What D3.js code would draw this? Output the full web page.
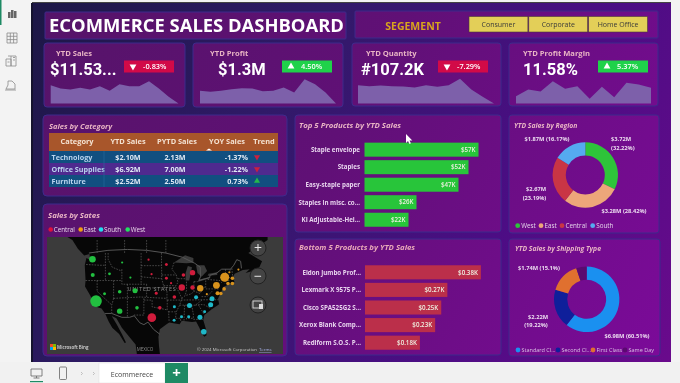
<!DOCTYPE html>
<html><head><meta charset="utf-8">
<script src="https://cdn.jsdelivr.net/npm/d3@7"></script>
<style>html,body{margin:0;padding:0;background:#f3f3f3;overflow:hidden}
svg{display:block;filter:blur(.5px)}text{font-family:"Open Sans","Noto Sans",sans-serif}</style></head>
<body><svg id="c" width="680" height="383"></svg>
<script>
// ---------- data ----------
const kpiNames = ["YTD Sales","YTD Profit","YTD Quantity","YTD Profit Margin"];
const kpiValues = ["$11.53...","$1.3M","#107.2K","11.58%"];
const kpiDeltas = [-0.83,4.50,-7.29,5.37];
const sparkSales = [55,45,42,47,42,52,38,58,52,52,67,45,20,0];
const sparkProfit = [38,35,38,43,46,45,37,38,48,33,73,58,33,0];
const sparkQuantity = [55,52,54,52,51,48,55,50,55,74,42,20,0];
const sparkMargin = [22,42,36,67,44,52,14,50,19,62,57,47];
const segments = ["Consumer","Corporate","Home Office"];
const tableHeaders = ["Category","YTD Sales","PYTD Sales","YOY Sales","Trend"];
const tableCategories = ["Technology","Office Supplies","Furniture"];
const tableYtd = ["$2.10M","$6.92M","$2.52M"];
const tablePytd = ["2.13M","7.00M","2.50M"];
const tableYoy = [-1.37,-1.22,0.73];
const topProducts = ["Staple envelope","Staples","Easy-staple paper","Staples in misc. co...","KI Adjustable-Hei..."];
const topValues = [57,52,47,26,22];
const bottomProducts = ["Eldon Jumbo Prof...","Lexmark X 9575 P...","Cisco SPA525G2 S...","Xerox Blank Comp...","Rediform S.O.S. P..."];
const bottomValues = [0.38,0.27,0.25,0.23,0.18];
const regionNames = ["West","East","Central","South"];
const regionShares = [32.22,28.42,23.19,16.17];
const shipNames = ["Standard Cl...","Second Cl...","First Class","Same Day"];
const shipShares = [60.51,19.22,15.10,5.17];
// map points: [lon, lat, sales $K]
const westPts = [[-121.7,47.5,146],[-121.6,43.5,54],[-115.5,43.8,26],[-110.9,46.7,16],[-107.9,42.8,16],[-120.4,36.2,450],[-117.3,38.3,30],[-111.8,38.9,43],[-106.2,39.2,84],[-111.8,33.2,98],[-105.5,34.2,43]];
const centralPts = [[-101.3,47.4,16],[-94.8,46.2,30],[-100.2,43.7,16],[-94.8,42.6,30],[-88.6,43.5,43],[-85.3,44.1,98],[-89.2,40.1,137],[-85.3,40.1,65],[-98.5,38.5,30],[-91.9,37.4,43],[-93.1,41.3,16],[-97.2,34.2,43],[-100.1,31.2,248]];
const eastPts = [[-73.6,42.9,271],[-76.6,40.7,155],[-82.5,39.9,137],[-70.8,42.6,43],[-72.4,41.2,43],[-70.8,41.2,43],[-73.8,39.7,43],[-68.6,44.9,16],[-71.9,44.2,16],[-76.2,38.5,54],[-75,38.4,43],[-80.1,38.2,16]];
const southPts = [[-84,37.3,54],[-78.2,36.9,84],[-78.7,35.1,84],[-86.4,34.9,84],[-91.9,34.5,30],[-80.9,33,30],[-82.6,31.3,84],[-86.7,31.5,30],[-89.3,31.5,30],[-92,30.4,30],[-81.2,26.7,105]];
const landOutline = [[-140,56],[-129,52],[-127,50],[-124.7,48.4],[-122.8,48.8],[-122.5,47.3],[-123.9,47.8],[-124.5,46],[-124.2,42],[-124.4,40.4],[-122.5,37.8],[-120.6,34.6],[-118.4,34],[-117.1,32.5],[-115.8,30],[-114.5,28],[-112,26],[-110,23],[-109.5,23.2],[-111,26],[-112.8,29],[-114.7,31.7],[-113,31],[-111,28],[-109,25.8],[-106,22.5],[-105.5,19],[-97,18],[-97.5,22],[-97.7,25],[-97.2,27.5],[-95,29],[-93.8,29.7],[-90,29.1],[-89.2,30.2],[-85.5,29.8],[-84,30],[-82.8,28],[-81.8,26],[-81,25.1],[-80.2,25.6],[-80.4,27.5],[-81.4,30.5],[-81,32],[-79,33.3],[-77.9,34],[-75.6,35.3],[-76,37],[-75.2,38.3],[-74,40.3],[-72,41],[-70,41.7],[-70.8,42.7],[-70,43.8],[-67,44.8],[-64.5,45],[-66,44],[-63.5,44.5],[-61,45.5],[-60,47],[-65,49],[-58,52],[-58,56]];
const lakes = [
 [[-92,46.7],[-88,48.5],[-85,47.8],[-85,46.6],[-87.5,46.5],[-90.5,46.6]],
 [[-87.8,42],[-86.5,42],[-85.5,45.5],[-87,45.8],[-87.8,44]],
 [[-84,46],[-81,46],[-80,44.5],[-82,43],[-83.5,44]],
 [[-83.4,41.6],[-79,42.6],[-79,43],[-83,42.2]],
 [[-79.8,43.3],[-76.3,43.5],[-76.3,44.2],[-79.5,43.8]]];
const countryBorders = [
 [[-123,49],[-95,49],[-89,48],[-84.5,46.5],[-82.5,45.5],[-82.4,43],[-83,42],[-79,42.8],[-79,43.4],[-76.5,44],[-74.7,45],[-71.5,45],[-70.3,46],[-69.2,47.4],[-67.8,47],[-67.5,45.2]],
 [[-117.1,32.5],[-114.7,32.5],[-111,31.3],[-108.2,31.3],[-106.5,31.8],[-104.5,29.6],[-103,29],[-101.5,29.8],[-99.5,27.5],[-97.2,25.9]]];
const stateLines = [
 [[-124,46.2],[-119,46],[-117,46]],[[-117,49],[-117,42]],[[-116,49],[-116,47.5],[-114.5,45.5],[-111,44.5]],
 [[-124.2,42],[-111,42]],[[-120,42],[-120,39],[-114.6,35]],[[-114,42],[-114,37]],[[-114,37],[-114.7,35],[-114.7,32.6]],
 [[-114,37],[-94.6,37]],[[-111,45],[-111,41],[-102,41]],[[-104,49],[-104,41]],[[-109,41],[-109,31.3]],[[-102,41],[-102,37]],
 [[-103,37],[-103,32],[-106.6,32]],[[-104,45.9],[-96.6,45.9]],[[-104,43],[-96.5,42.5]],[[-96.5,43.5],[-91.2,43.5]],
 [[-96.6,49],[-96.5,42.5],[-95.8,40.5],[-94.6,39],[-94.6,36.5]],[[-102,40],[-95.3,40]],[[-95.8,40.6],[-91.5,40.6]],
 [[-103,36.5],[-100,36.5],[-100,34.5],[-94.5,33.6]],[[-94.5,36.5],[-94.5,33.6],[-94,33],[-93.8,29.8]],[[-94,33],[-91.2,33]],
 [[-92,46.7],[-92.8,45],[-91.2,43.5],[-90.6,41.5],[-91.5,40.4],[-90.2,38.8],[-89.2,37],[-90,35],[-91.2,33],[-91.5,31],[-89.7,31],[-89.6,30.2]],
 [[-94.5,36.5],[-89.7,36.5]],[[-90.6,42.5],[-87.8,42.5]],[[-87.5,41.7],[-87.5,39.3],[-88,37.8]],[[-84.8,41.7],[-84.8,39.1]],
 [[-89.2,37],[-88,37.8],[-85.7,38.3],[-84.8,39.1],[-82.6,38.4],[-80.6,40.6]],[[-84.8,41.7],[-83.4,41.7]],
 [[-89.5,36.5],[-81.7,36.6],[-75.9,36.6]],[[-90,35],[-84.3,35],[-81.7,36.6]],[[-88.2,35],[-88.4,30.3]],
 [[-85.6,35],[-85,32.3],[-85,31],[-87.5,31],[-87.5,30.3]],[[-85,30.7],[-82.2,30.6],[-81.5,30.7]],
 [[-84.3,35],[-82.5,35.2],[-81,35.1],[-78.5,33.9]],[[-83.1,35],[-81,32.1]],[[-80.5,42],[-80.5,39.7],[-75.7,39.7]],
 [[-79.8,42.3],[-75.3,42],[-74.7,41.4]],[[-82,37.5],[-80,37.5],[-78,39.2]],[[-73.3,45],[-73.3,42.7],[-73.5,41.2]],
 [[-71,45.2],[-70.7,43.1]],[[-71.5,45],[-72.5,42.7]],[[-73.3,42.7],[-70.9,42.8]],[[-73.5,42],[-71.8,42]],
 [[-110,52],[-110,49]],[[-102,52],[-102,49]],[[-95,52],[-95,49]],[[-120,52],[-120,49]]];

// ---------- drawing ----------
const svg = d3.select("#c");
const defs = svg.append("defs");
function grad(id,x2,y2,stops){const g=defs.append("linearGradient").attr("id",id).attr("gradientUnits","userSpaceOnUse").attr("x1",32).attr("y1",0).attr("x2",x2).attr("y2",y2);
 stops.forEach(s=>g.append("stop").attr("offset",s[0]).attr("stop-color",s[1]));}
grad("bg",672,362,[[0,"#1c1745"],[.35,"#301a68"],[.7,"#4b0d84"],[1,"#6a0a8c"]]);
grad("pn",672,362,[[0,"#551468"],[.45,"#601076"],[1,"#7c0a9a"]]);
const PANEL="url(#pn)",EDGE="#3d2b8c",PINK="#e8b4c4";

svg.append("rect").attr("width",680).attr("height",383).attr("fill","#f3f3f3");
svg.append("rect").attr("x",32).attr("y",3).attr("width",639).attr("height",359).attr("fill","url(#bg)");
svg.append("rect").attr("x",31).attr("y",3).attr("width",2).attr("height",359).attr("fill","#15132e");
svg.append("rect").attr("x",0).attr("y",0).attr("width",1.5).attr("height",25).attr("fill","#1e8a64");
svg.append("rect").attr("x",32).attr("y",2).attr("width",639).attr("height",1).attr("fill","#444");

function panel(x,y,w,h,r){svg.append("rect").attr("x",x).attr("y",y).attr("width",w).attr("height",h).attr("rx",r??3)
 .attr("fill",PANEL).attr("stroke",EDGE).attr("stroke-width",1);}
function txt(x,y,s,size,fill,o={}){return svg.append("text").attr("x",x).attr("y",y).text(s).attr("font-size",size).attr("fill",fill)
 .attr("font-weight",o.w??600).attr("text-anchor",o.a??"start").attr("font-style",o.i?"italic":"normal").style("font-family",o.f??null);}

// header
panel(45,12,301,27,1);
txt(49,32,"ECOMMERCE SALES DASHBOARD",18.4,"#fff",{w:700});
panel(355,11,303,27,1);
txt(413,30,"SEGEMENT",10.5,"#d8a41e",{w:700,a:"middle"});
const segX = d3.scaleBand().domain(segments).range([469,647.5]).paddingInner(.015);
segments.forEach(s=>{
 svg.append("rect").attr("x",segX(s)).attr("y",16.5).attr("width",segX.bandwidth()).attr("height",15.5).attr("fill","#e3cf58").attr("stroke","#4a3a3a").attr("stroke-width",.6);
 txt(segX(s)+segX.bandwidth()/2,27,s,7,"#3a3a3a",{a:"middle",w:500});
});

// KPI cards
const kpiBox=[[44,43,141,64],[193,43,150,64],[352,43,149,63],[509,43,149,63]];
const kpiTitleX=[56,210,366,523], kpiValueX=[50,218,361,523], kpiBadgeX=[124,282,438,598];
const kpiArea=[[50.7,178.5],[200,336],[358,494],[516,651]];
const sparks=[sparkSales,sparkProfit,sparkQuantity,sparkMargin];
kpiNames.forEach((n,i)=>{
 const b=kpiBox[i]; panel(...b);
 txt(kpiTitleX[i],56,n,7.6,PINK,{w:700});
 txt(kpiValueX[i],75,kpiValues[i],16.5,"#fff",{w:700,f:"Roboto"});
 const up=kpiDeltas[i]>0, bx=kpiBadgeX[i];
 svg.append("rect").attr("x",bx).attr("y",60.5).attr("width",50).attr("height",12).attr("fill",up?"#1fd24a":"#d20a48");
 svg.append("path").attr("transform",`translate(${bx+9},66.5) rotate(${up?0:180})`).attr("d",d3.symbol(d3.symbolTriangle,20)).attr("fill","#fff");
 txt(bx+19,69.3,kpiDeltas[i].toFixed(2)+"%",7.4,"#fff",{w:600});
 const s=sparks[i];
 const x=d3.scaleLinear().domain([0,s.length-1]).range(kpiArea[i]);
 const y=d3.scaleLinear().domain([0,70]).range([103.5,80.2]);
 svg.append("path").datum(s).attr("fill","#7d60aa").attr("d",d3.area().x((d,k)=>x(k)).y0(y(0)).y1(d=>y(d)));
});

// table
panel(43,115,244,81,4);
txt(49,129,"Sales by Category",7.6,PINK,{w:700,i:true});
svg.append("rect").attr("x",49).attr("y",133).attr("width",229).attr("height",18).attr("fill","#a8562b");
const headX=[77,128,177,227,264];
tableHeaders.forEach((h,i)=>txt(headX[i],143.5,h,7.4,"#f4e2d2",{w:700,a:"middle"}));
svg.append("path").attr("d","M206,150.5 h6 l-3,-2 z").attr("fill","#fff");
const rowY=d3.scaleBand().domain(tableCategories).range([151,187]);
const rowFill=["#114f80","#4f2a8f","#114f80"];
tableCategories.forEach((c,i)=>{
 const y=rowY(c),h=rowY.bandwidth(),t=y+h/2+2.6;
 svg.append("rect").attr("x",49).attr("y",y).attr("width",229).attr("height",h).attr("fill",rowFill[i]);
 txt(51.5,t,c,7.2,"#b9d4ee",{w:700});
 txt(128,t,tableYtd[i],7.2,"#dfe9f4",{w:700,a:"middle"});
 txt(175,t,tablePytd[i],7.2,"#dfe9f4",{w:700,a:"middle"});
 txt(248,t,tableYoy[i].toFixed(2)+"%",7.2,"#dfe9f4",{w:700,a:"end"});
 const up=tableYoy[i]>0;
 svg.append("path").attr("transform",`translate(257,${y+h/2}) rotate(${up?0:180})`).attr("d",d3.symbol(d3.symbolTriangle,16)).attr("fill",up?"#25b84a":"#c9203f");
});
svg.append("line").attr("x1",104).attr("x2",104).attr("y1",151).attr("y2",187).attr("stroke","#2a6c9e").attr("stroke-width",.6);

// map
panel(43,204,244,152,4);
txt(48,218,"Sales by Sates",7.8,PINK,{w:700,i:true});
const mapLegend=[["Central","#e0103a",50.7],["East","#f0a010",80.7],["South","#22e0f0",101],["West","#22e060",127.7]];
mapLegend.forEach(l=>{svg.append("circle").attr("cx",l[2]).attr("cy",229.5).attr("r",2.3).attr("fill",l[1]);
 txt(l[2]+3,232,l[0],6.3,"#e8d8ea",{w:500});});
defs.append("clipPath").attr("id","mc").append("rect").attr("x",47).attr("y",237).attr("width",236).attr("height",117);
const proj=d3.geoMercator().scale(157.5).translate([427,408]);
const geo=d3.geoPath(proj);
const m=svg.append("g").attr("clip-path","url(#mc)");
m.append("rect").attr("x",47).attr("y",237).attr("width",236).attr("height",117).attr("fill","#3b3b3b");
const poly=c=>{const r=c.concat([c[0]]);return {type:"Polygon",coordinates:[d3.geoArea({type:"Polygon",coordinates:[r]})>6?r.slice().reverse():r]};};
m.append("path").attr("d",geo(poly(landOutline))).attr("fill","#070707");
lakes.forEach(l=>m.append("path").attr("d",geo(poly(l))).attr("fill","#3b3b3b"));
stateLines.forEach(l=>m.append("path").attr("d",geo({type:"LineString",coordinates:l})).attr("fill","none").attr("stroke","#7a7a7a").attr("stroke-width",.55).attr("stroke-dasharray","1.6 1.2"));
countryBorders.forEach(l=>m.append("path").attr("d",geo({type:"LineString",coordinates:l})).attr("fill","none").attr("stroke","#565656").attr("stroke-width",1));
m.append("text").attr("x",152).attr("y",291).attr("text-anchor","middle").attr("font-size",5.5).attr("letter-spacing",.7).attr("fill","#8a8a8a").text("UNITED STATES");
m.append("text").attr("x",145).attr("y",351).attr("text-anchor","middle").attr("font-size",4.5).attr("fill","#888").text("MEXICO");
const rScale=d3.scaleSqrt().domain([0,450]).range([0,5.8]);
[[westPts,"#22c040"],[centralPts,"#d01c3c"],[eastPts,"#d8921c"],[southPts,"#1fb8c8"]].forEach(([pts,col])=>{
 m.selectAll(null).data(pts).enter().append("circle")
  .attr("cx",d=>proj(d)[0]).attr("cy",d=>proj(d)[1]).attr("r",d=>rScale(d[2])).attr("fill",col);
});
[[248,"+"],[276,"−"],[305,""]].forEach(([cy,g])=>{
 m.append("circle").attr("cx",258).attr("cy",cy).attr("r",8).attr("fill","#444").attr("stroke","#222").attr("stroke-width",1);
 if(g) m.append("text").attr("x",258).attr("y",cy+4.5).attr("text-anchor","middle").attr("font-size",14).attr("fill","#e6e6e6").text(g);
});
m.append("rect").attr("x",253).attr("y",301).attr("width",9).attr("height",7).attr("fill","none").attr("stroke","#ddd").attr("stroke-width",.9);
m.append("rect").attr("x",259).attr("y",304).attr("width",4).attr("height",5).attr("fill","#ddd");
[["#f25022",50,344],["#7fba00",53,344],["#00a4ef",50,347],["#ffb900",53,347]].forEach(s=>m.append("rect").attr("x",s[1]).attr("y",s[2]).attr("width",3).attr("height",3).attr("fill",s[0]));
m.append("text").attr("x",57).attr("y",349).attr("font-size",4.5).attr("font-weight",600).attr("fill","#ddd").text("Microsoft Bing");
m.append("text").attr("x",197).attr("y",351).attr("font-size",4.3).attr("fill","#ccc").text("© 2024 Microsoft Corporation");
m.append("text").attr("x",259).attr("y",351).attr("font-size",4.3).attr("fill","#aab4ee").attr("text-decoration","underline").text("Terms");

// bars
function bars(title,names,vals,box,x0,perUnit,rangeY,col,fmt,labelEnd,titleY,tcol){
 panel(...box);
 txt(box[0]+4,titleY,title,7.8,tcol,{w:700,i:true});
 const x=d3.scaleLinear().domain([0,d3.max(vals)]).range([x0,x0+perUnit*d3.max(vals)]);
 const y=d3.scaleBand().domain(names).range(rangeY).paddingInner(.2).paddingOuter(.1);
 names.forEach((n,i)=>{
  svg.append("rect").attr("x",x(0)).attr("y",y(n)).attr("width",x(vals[i])-x(0)).attr("height",y.bandwidth()).attr("fill",col);
  txt(x(vals[i])-3,y(n)+y.bandwidth()/2+2.2,fmt(vals[i]),6.2,"#eef0e0",{a:"end",w:600});
  txt(labelEnd,y(n)+y.bandwidth()/2+2.3,n,6.2,"#e8d4ee",{a:"end",w:700});
 });
}
bars("Top 5 Products by YTD Sales",topProducts,topValues,[295,115,206,117],364.5,2,[140.9,228.5],"#28c53a",d=>"$"+d+"K",360,128,PINK);
bars("Bottom 5 Products by YTD Sales",bottomProducts,bottomValues,[295,239,206,116],365,305,[263.5,351.5],"#bb2f4a",d=>"$"+d.toFixed(2)+"K",361,250,"#e8a8b8");

// donuts
function donut(cx,cy,names,vals,cols){
 const pie=d3.pie().sort(null)(vals), arc=d3.arc().innerRadius(19.5).outerRadius(32.7);
 svg.append("g").attr("transform",`translate(${cx},${cy})`).selectAll("path").data(pie).enter().append("path")
  .attr("d",arc).attr("fill",(d,i)=>cols[i]);
}
const LBL="#ecdcf0";
panel(509,115,150,118);
txt(514,128,"YTD Sales by Region",6.8,PINK,{w:700,i:true});
donut(585.3,175,regionNames,regionShares,["#2ec43a","#eda67a","#c93545","#55aaf0"]);
[[547,141,"$1.87M (16.17%)","middle"],[611,141,"$3.72M","start"],[611,149.5,"(32.22%)","start"],[536,191,"$2.67M","middle"],[534.5,199.5,"(23.19%)","middle"],[624,213,"$3.28M (28.42%)","middle"]]
 .forEach(l=>txt(l[0],l[1],l[2],5.7,LBL,{a:l[3],w:700}));
const regCols=["#2ec43a","#eda67a","#c93545","#55aaf0"],regX=[517.7,541,562,592.7];
regionNames.forEach((n,i)=>{svg.append("circle").attr("cx",regX[i]).attr("cy",225.7).attr("r",2.4).attr("fill",regCols[i]);
 txt(regX[i]+3.5,228,n,6.3,"#e4d2ea",{w:500});});

panel(509,239,151,117);
txt(515,251,"YTD Sales by Shipping Type",6.8,PINK,{w:700,i:true});
const shipCols=["#1a90f0","#0f1f9a","#e0702f","#5a0a70"];
donut(586.7,299.3,shipNames,shipShares,shipCols);
[[539,270,"$1.74M (15.1%)","middle"],[538,319,"$2.22M","middle"],[536,327,"(19.22%)","middle"],[627,338,"$6.98M (60.51%)","middle"]]
 .forEach(l=>txt(l[0],l[1],l[2],5.7,LBL,{a:l[3],w:700}));
const shipX=[518,558,593,625];
shipNames.forEach((n,i)=>{svg.append("circle").attr("cx",shipX[i]).attr("cy",350).attr("r",2.4).attr("fill",shipCols[i]);
 txt(shipX[i]+3.5,352.2,n,5.5,"#d8c0e4",{w:500});});

// cursor
svg.append("path").attr("d","M406,134 l0,9 l2,-2 l1.5,3 l1.4,-.8 l-1.4,-2.8 l2.8,0 z").attr("fill","#fff");

// app chrome
const g="#8a8a8a";
[[8,12,2.5,6],[11,10,2.5,8],[14,11,2.5,7]].forEach(r=>svg.append("rect").attr("x",r[0]).attr("y",r[1]).attr("width",r[2]).attr("height",r[3]).attr("fill","#666"));
svg.append("path").attr("d","M7,33 h10 v10 h-10 z M7,36.3 h10 M7,39.6 h10 M10.3,33 v10 M13.6,33 v10").attr("fill","none").attr("stroke",g).attr("stroke-width",.8);
svg.append("path").attr("d","M6,59 h5 v7 h-5 z M11,56 h5 v10 h-5 z M8,56 h3 M13,57.5 h2 M13,60 h2 M7.5,62 h2").attr("fill","none").attr("stroke",g).attr("stroke-width",.8);
svg.append("path").attr("d","M8,81 l4,0 l3,3 l0,5 l-9,0 l2,-4 z M5,90 h11").attr("fill","none").attr("stroke",g).attr("stroke-width",.8);
// bottom tabs
svg.append("rect").attr("x",0).attr("y",362).attr("width",680).attr("height",21).attr("fill","#f1f1f1");
svg.append("rect").attr("x",99).attr("y",363).attr("width",66).attr("height",20).attr("fill","#fff").attr("stroke","#ddd").attr("stroke-width",.5);
svg.append("rect").attr("x",165).attr("y",363).attr("width",23).attr("height",20).attr("fill","#1e8a64");
txt(132,377,"Ecommerece",7,"#444",{a:"middle",w:400});
txt(176.5,378,"+",15,"#fff",{a:"middle",w:700});
svg.append("path").attr("d","M31,369 h11 v7 h-11 z M36.5,376 v2 M33.5,378 h6").attr("fill","none").attr("stroke","#666").attr("stroke-width",.8);
svg.append("rect").attr("x",30).attr("y",381).attr("width",13).attr("height",1.2).attr("fill","#1e8a64");
svg.append("rect").attr("x",59.5).attr("y",367).attr("width",7).attr("height",12.5).attr("rx",1).attr("fill","none").attr("stroke","#666").attr("stroke-width",.8);
svg.append("path").attr("d","M81,372 l1.5,1.5 l-1.5,1.5 M93,372 l1.5,1.5 l-1.5,1.5").attr("fill","none").attr("stroke","#aaa").attr("stroke-width",.7);
</script></body></html>
